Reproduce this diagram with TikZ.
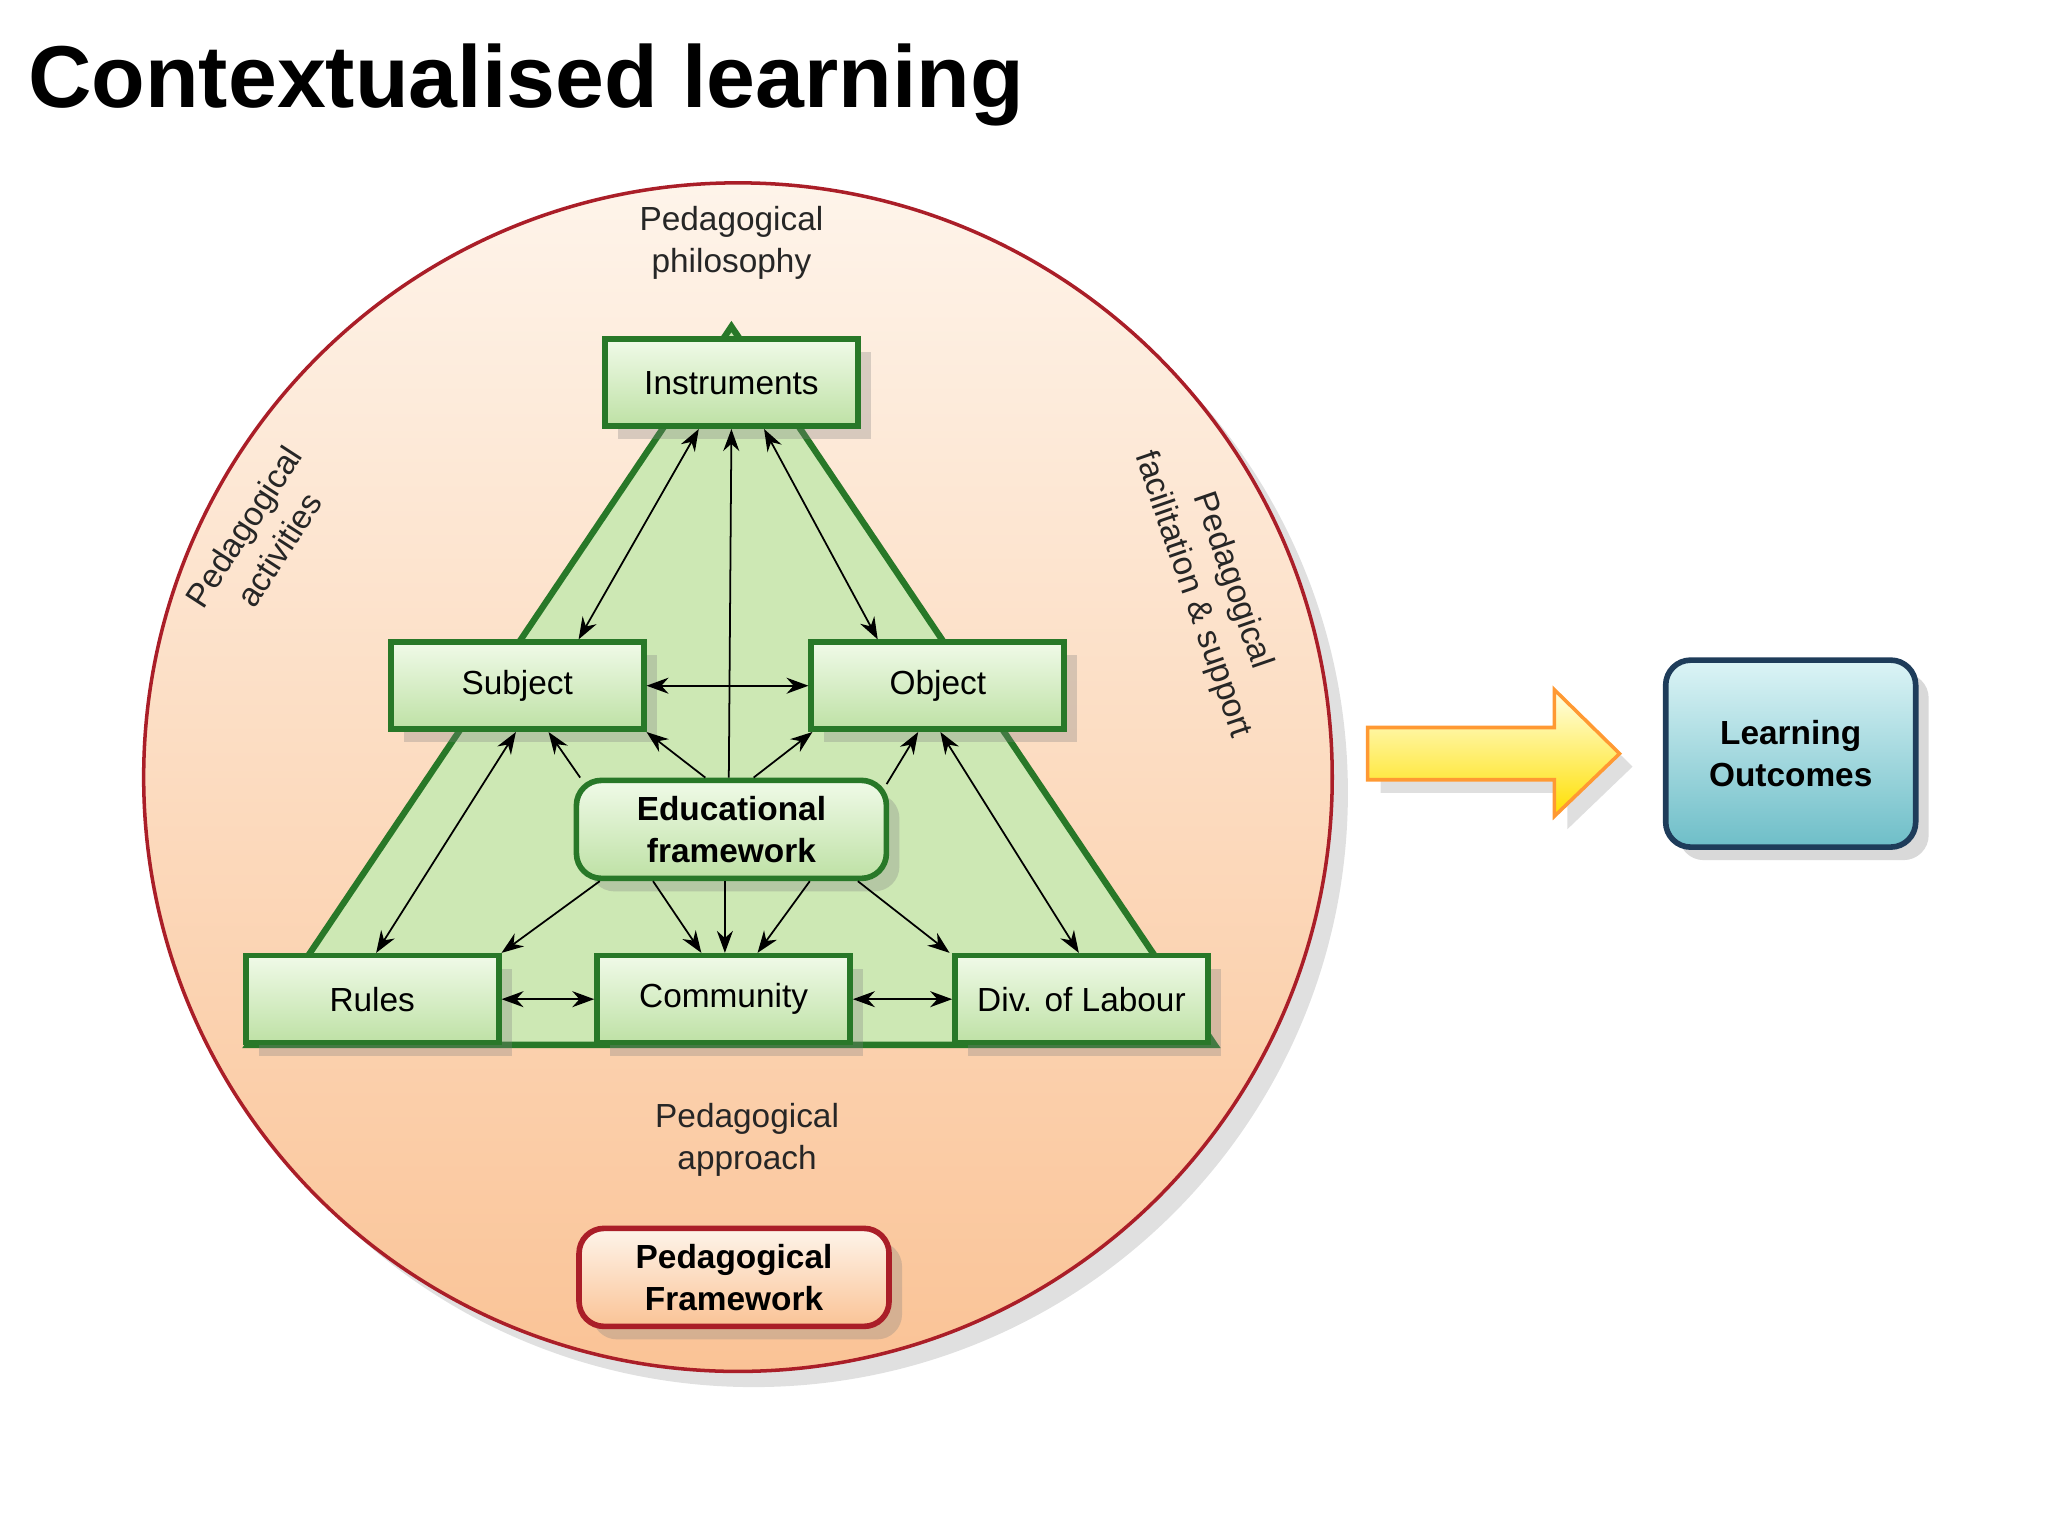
\documentclass[tikz,border=0pt]{standalone}
\usepackage{fontspec}
\setmainfont{Liberation Sans}
\usetikzlibrary{shadows,arrows.meta,calc}
\definecolor{gborder}{RGB}{40,120,40}
\definecolor{gtop}{RGB}{240,250,232}
\definecolor{gbot}{RGB}{190,225,165}
\definecolor{trifill}{RGB}{205,232,180}
\definecolor{cborder}{RGB}{170,30,40}
\definecolor{ctop}{RGB}{254,244,234}
\definecolor{cbot}{RGB}{250,195,150}
\definecolor{tborder}{RGB}{30,60,90}
\definecolor{ttop}{RGB}{220,244,246}
\definecolor{tbot}{RGB}{110,190,200}
\tikzset{
 gbox/.style={draw=gborder,line width=1.6pt,top color=gtop,bottom color=gbot,minimum width=2.53cm,minimum height=0.87cm,font=\fontsize{9.5}{12}\selectfont,drop shadow={shadow xshift=1.3mm,shadow yshift=-1.3mm,opacity=0.3}},
 rbox/.style={gbox,rounded corners=2.5mm,font=\bfseries\fontsize{9.5}{12}\selectfont,align=center,minimum width=3.1cm,minimum height=0.98cm},
 lbl/.style={align=center,font=\fontsize{9.5}{12}\selectfont,text=black!85},
 con/.style={line width=0.5pt,-{Stealth[length=2.2mm,width=1.6mm]}},
 dcon/.style={con,{Stealth[length=2.2mm,width=1.6mm]}-{Stealth[length=2.2mm,width=1.6mm]}}
}
\begin{document}
\begin{tikzpicture}[x=0.01306cm,y=-0.01306cm]
\useasboundingbox (0,0) rectangle (1568,1176);
\node[anchor=west,font=\bfseries\fontsize{25}{30}\selectfont] (title) at (12,65) {Contextualised learning};
% circle
\fill[black,opacity=0.12] (577,607) circle[radius=455];
\shade[top color=ctop,bottom color=cbot,draw=cborder,line width=1pt] (565,595) circle[radius=455];
% triangle
\draw[draw=gborder,line width=1.8pt,fill=trifill] (560,250) -- (930,800) -- (190,800) -- cycle;
\node[lbl] (phil) at (560,186) {Pedagogical\\philosophy};
\node[lbl,rotate=57] (act) at (200,412) {Pedagogical\\activities};
\node[lbl,rotate=-71] (fac) at (928,450) {Pedagogical\\facilitation \& support};
\node[lbl] (appr) at (572,873) {Pedagogical\\approach};
% boxes
\node[gbox] (inst) at (560,293) {Instruments};
\node[gbox] (subj) at (396,525) {Subject};
\node[gbox] (obj) at (718,525) {Object};
\node[gbox] (rules) at (285,765) {Rules};
\node[gbox] (comm) at (554,765) {Community};
\node[gbox] (div) at (828,765) {Div. of Labour};
\node[rbox] (edu) at (560,635) {Educational\\framework};
\node[rbox,draw=cborder,top color=ctop,bottom color=cbot] (pf) at (562,978) {Pedagogical\\Framework};
\node[rbox,draw=tborder,top color=ttop,bottom color=tbot,minimum width=2.5cm,minimum height=1.87cm] (lo) at (1371,577) {Learning\\Outcomes};
% big arrow
\draw[draw=orange!80,line width=1pt,top color=yellow!10,bottom color=yellow!75!orange,drop shadow={shadow xshift=1.3mm,shadow yshift=-1.3mm,opacity=0.25}]
 (1047,557) -- (1190,557) -- (1190,528) -- (1240,577) -- (1190,625) -- (1190,597) -- (1047,597) -- cycle;
% connectors
\draw[dcon] ($(inst.south)+(-25,0)$) -- ($(subj.north)+(47,0)$);
\draw[dcon] ($(inst.south)+(25,0)$) -- ($(obj.north)+(-46,0)$);
\draw[con] ($(edu.north)+(-2,0)$) -- (inst.south);
\draw[dcon] (subj.east) -- (obj.west);
\draw[con] ($(edu.north)+(-20,0)$) -- ($(subj.south)+(99,0)$);
\draw[con] ($(edu.north west)+(5,0)$) -- ($(subj.south)+(24,0)$);
\draw[con] ($(edu.north)+(17,0)$) -- ($(obj.south)+(-96,0)$);
\draw[con] ($(edu.north east)+(-2,5)$) -- ($(obj.south)+(-15,0)$);
\draw[dcon] ($(rules.north)+(3,0)$) -- ($(subj.south)+(-1,0)$);
\draw[dcon] ($(obj.south)+(2,0)$) -- ($(div.north)+(-2,0)$);
\draw[con] ($(edu.south west)+(20,0)$) -- (rules.north east);
\draw[con] ($(edu.south)+(-60,0)$) -- ($(comm.north)+(-17,0)$);
\draw[con] ($(edu.south)+(-5,0)$) -- ($(comm.north)+(1,0)$);
\draw[con] ($(edu.south)+(60,0)$) -- ($(comm.north)+(26,0)$);
\draw[con] ($(edu.south east)+(-24,0)$) -- ($(div.north west)+(-2,0)$);
\draw[dcon] (rules.east) -- (comm.west);
\draw[dcon] (comm.east) -- (div.west);
\end{tikzpicture}
\end{document}
